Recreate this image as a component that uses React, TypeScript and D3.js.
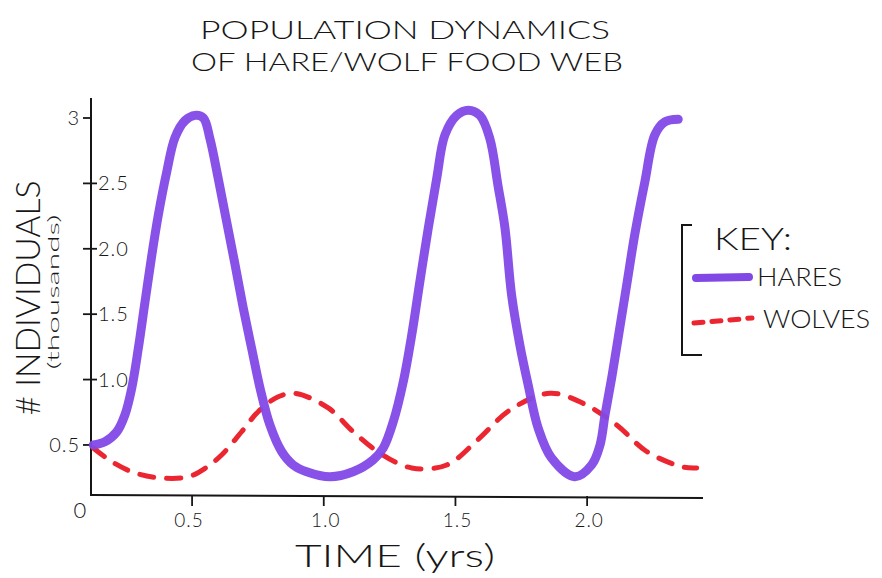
import React from 'react';
import * as d3 from 'd3';

// values (time in years, population in thousands)
const HARE_TIME = [
  0.125, 0.169, 0.214, 0.245, 0.271, 0.296, 0.321, 0.347, 0.372, 0.404, 0.435, 0.473,
  0.511, 0.543, 0.568, 0.599, 0.631, 0.663, 0.694, 0.726, 0.758, 0.796, 0.84, 0.884,
  0.935, 1.024, 1.111, 1.187, 1.226, 1.264, 1.302, 1.334, 1.365, 1.397, 1.429, 1.46,
  1.505, 1.549, 1.593, 1.631, 1.661, 1.688, 1.713, 1.745, 1.776, 1.814, 1.865, 1.953,
  2.017, 2.049, 2.068, 2.093, 2.118, 2.15, 2.181, 2.219, 2.257, 2.295, 2.346,
];
const HARES = [
  0.5, 0.525, 0.6, 0.73, 0.935, 1.24, 1.59, 1.95, 2.26, 2.59, 2.85, 2.98,
  3.02, 3.0, 2.84, 2.54, 2.21, 1.88, 1.55, 1.24, 0.935, 0.65, 0.45, 0.347,
  0.295, 0.257, 0.295, 0.385, 0.477, 0.678, 0.984, 1.34, 1.75, 2.16, 2.54, 2.87,
  3.02, 3.06, 3.02, 2.84, 2.49, 2.16, 1.65, 1.26, 0.96, 0.63, 0.4, 0.257,
  0.347, 0.5, 0.73, 1.01, 1.32, 1.72, 2.11, 2.51, 2.87, 2.97, 2.99,
];

const WOLF_TIME = [
  0.125, 0.195, 0.283, 0.385, 0.486, 0.549, 0.612, 0.688, 0.751, 0.827, 0.894, 1.017,
  1.112, 1.213, 1.334, 1.467, 1.584, 1.707, 1.859, 1.985, 2.112, 2.226, 2.365, 2.416,
];
const WOLVES = [
  0.477, 0.372, 0.286, 0.247, 0.257, 0.321, 0.423, 0.601, 0.754, 0.869, 0.893, 0.783,
  0.601, 0.438, 0.324, 0.347, 0.538, 0.767, 0.895, 0.818, 0.653, 0.45, 0.331, 0.324,
];

const X_TICKS = [0.5, 1.0, 1.5, 2.0];
const X_TICK_LABELS = ['0.5', '1.0', '1.5', '2.0'];
const Y_TICKS = [3, 2.5, 2.0, 1.5, 1.0, 0.5];
const Y_TICK_LABELS = ['3', '2.5', '2.0', '1.5', '1.0', '0.5'];

const TITLE = ['POPULATION DYNAMICS', 'OF  HARE/WOLF FOOD WEB'];
const LEGEND = ['HARES', 'WOLVES'];

const width = 882;
const height = 578;

const HARE_COLOR = '#8248e6';
const WOLF_COLOR = '#ec2630';
const INK = '#161616';
const FONT = 'Lato, "DejaVu Sans", sans-serif';

const x = d3.scaleLinear().domain([0.12, 2.44]).range([92, 703]);
const y = d3.scaleLinear().domain([0.125, 3]).range([494, 118]);

const line = d3.line<[number, number]>()
  .x(d => x(d[0]))
  .y(d => y(d[1]))
  .curve(d3.curveCatmullRom.alpha(0.5));

const App = () => {
  const hares = HARE_TIME.map((t, i) => [t, HARES[i]] as [number, number]);
  const wolves = WOLF_TIME.map((t, i) => [t, WOLVES[i]] as [number, number]);
  const x0 = x.range()[0];
  const x1 = x.range()[1];
  const y0 = y.range()[0];

  return (
    <svg width={width} height={height} style={{ position: 'absolute', left: 0, top: 0, background: '#fff' }}
      fontFamily={FONT} fill={INK}>
      {/* title */}
      <text x={405} y={39} textAnchor='middle' fontSize={26} fontWeight={300}
        textLength={410} lengthAdjust='spacingAndGlyphs'>{TITLE[0]}</text>
      <text x={407} y={71} textAnchor='middle' fontSize={26} fontWeight={300}
        textLength={432} lengthAdjust='spacingAndGlyphs'>{TITLE[1]}</text>

      {/* axes */}
      <line x1={x0 - 1} y1={98} x2={x0 - 1} y2={y0 + 2} stroke={INK} strokeWidth={2} />
      <line x1={x0 - 1} y1={y0 + 1} x2={x1} y2={y0 + 4} stroke={INK} strokeWidth={2} />

      {Y_TICKS.map((v, i) => {
        const left = v === 3 || v === 0.5;
        return (
          <g key={v}>
            <line x1={x0 - 9} x2={left ? x0 - 1 : x0 + 5} y1={y(v)} y2={y(v)} stroke={INK} strokeWidth={1.8} />
            <text x={left ? x0 - 12 : x0 + 6} y={y(v) + 7} textAnchor={left ? 'end' : 'start'}
              fontSize={20} fontWeight={300} letterSpacing={1}>{Y_TICK_LABELS[i]}</text>
          </g>
        );
      })}
      <text x={x0 - 12} y={518} textAnchor='middle' fontSize={22} fontWeight={300}>0</text>

      {X_TICKS.map((v, i) => (
        <g key={v}>
          <line x1={x(v)} x2={x(v)} y1={y0 + 2} y2={y0 + 12} stroke={INK} strokeWidth={1.8} />
          <text x={x(v) - (i === 0 ? 3 : -2)} y={527} textAnchor='middle' fontSize={19} fontWeight={300}
            letterSpacing={1}>{X_TICK_LABELS[i]}</text>
        </g>
      ))}

      {/* axis titles */}
      <text x={395} y={567} textAnchor='middle' fontSize={32} fontWeight={300}
        textLength={200} lengthAdjust='spacingAndGlyphs'>TIME (yrs)</text>
      <text transform='translate(40,298) rotate(-90)' textAnchor='middle' fontSize={34} fontWeight={300}
        textLength={235} lengthAdjust='spacingAndGlyphs'># INDIVIDUALS</text>
      <text transform='translate(59,292) rotate(-90)' textAnchor='middle' fontSize={16} fontWeight={300}
        textLength={155} lengthAdjust='spacingAndGlyphs'>(thousands)</text>

      {/* series */}
      <path d={line(wolves) ?? ''} fill='none' stroke={WOLF_COLOR} strokeWidth={5}
        strokeDasharray='14 13' strokeLinecap='round' />
      <path d={line(hares) ?? ''} fill='none' stroke={HARE_COLOR} strokeWidth={9}
        strokeLinecap='round' strokeLinejoin='round' opacity={0.95} />

      {/* key */}
      <path d='M692,225 L682,225 L682,355 L702,355' fill='none' stroke={INK} strokeWidth={2} />
      <text x={714} y={250} fontSize={32} fontWeight={300} textLength={78}
        lengthAdjust='spacingAndGlyphs'>KEY:</text>
      <line x1={696} x2={749} y1={278} y2={277} stroke={HARE_COLOR} strokeWidth={8} strokeLinecap='round' />
      <text x={757} y={286} fontSize={26} fontWeight={300} textLength={85}
        lengthAdjust='spacingAndGlyphs'>{LEGEND[0]}</text>
      <line x1={694} x2={752} y1={323} y2={318} stroke={WOLF_COLOR} strokeWidth={5}
        strokeDasharray='9 9' strokeLinecap='round' />
      <text x={763} y={328} fontSize={26} fontWeight={300} textLength={107}
        lengthAdjust='spacingAndGlyphs'>{LEGEND[1]}</text>
    </svg>
  );
};

export default App;
